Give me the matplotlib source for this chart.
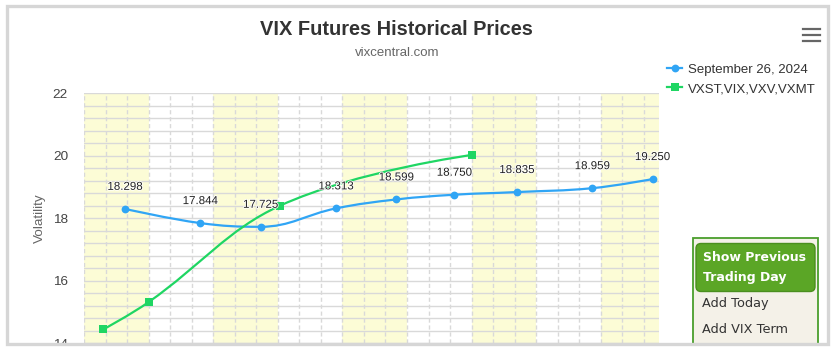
"""VIX futures term structure vs. VXST/VIX/VXV/VXMT curve (vixcentral style)."""

import matplotlib
matplotlib.use("Agg")
import matplotlib.pyplot as plt
import numpy as np
import pandas as pd
from matplotlib.lines import Line2D
from matplotlib.patches import Rectangle, FancyBboxPatch, PathPatch
from matplotlib.path import Path
from matplotlib.transforms import IdentityTransform
import matplotlib.patheffects as pe

plt.rcParams["font.family"] = ["Liberation Sans", "DejaVu Sans"]

# ---------------------------------------------------------------------------
# Data
# ---------------------------------------------------------------------------
base_date = "2024-09-26"
futures_dates = ["2024-10-16", "2024-11-20", "2024-12-18", "2025-01-22",
                 "2025-02-19", "2025-03-18", "2025-04-16", "2025-05-21",
                 "2025-06-18"]
futures_prices = [18.298, 17.844, 17.725, 18.313, 18.599, 18.750, 18.835,
                  18.959, 19.250]

index_names = ["VXST", "VIX", "VXV", "VXMT"]
index_days = [10, 31, 92, 181]
index_values = [14.45, 15.32, 18.40, 20.02]

futures_label = "September 26, 2024"
index_label = ",".join(index_names)

BLUE = "#30a5f5"
GREEN = "#1fd663"
BAND = "#fcfcd6"
GRID = "#d9d9d9"

W, H = 832, 350


def fx(px):
    return px / W


def fy(py):
    return 1 - py / H


def spline_path(xs, ys, smoothing=1.5):
    """Highcharts-like spline through the points (cubic bezier segments)."""
    n = len(xs)
    verts = [(xs[0], ys[0])]
    codes = [Path.MOVETO]
    right = [None] * n
    for i in range(1, n):
        px, py = xs[i], ys[i]
        lx, ly = xs[i - 1], ys[i - 1]
        lcx, lcy = px, py
        if i < n - 1:
            nx, ny = xs[i + 1], ys[i + 1]
            d = smoothing + 1
            lcx = (smoothing * px + lx) / d
            lcy = (smoothing * py + ly) / d
            rcx = (smoothing * px + nx) / d
            rcy = (smoothing * py + ny) / d
            corr = (rcy - lcy) * (rcx - px) / (rcx - lcx) + py - rcy
            lcy += corr
            rcy += corr
            if lcy > ly and lcy > py:
                lcy = max(ly, py)
                rcy = 2 * py - lcy
            elif lcy < ly and lcy < py:
                lcy = min(ly, py)
                rcy = 2 * py - lcy
            if rcy > ny and rcy > py:
                rcy = max(ny, py)
                lcy = 2 * py - rcy
            elif rcy < ny and rcy < py:
                rcy = min(ny, py)
                lcy = 2 * py - rcy
            right[i] = (rcx, rcy)
        prev = right[i - 1] if right[i - 1] is not None else (lx, ly)
        verts += [prev, (lcx, lcy), (px, py)]
        codes += [Path.CURVE4] * 3
    return Path(verts, codes)


futures_days = (pd.to_datetime(futures_dates) - pd.Timestamp(base_date)).days.values

# ---------------------------------------------------------------------------
# Figure / axes
# ---------------------------------------------------------------------------
fig = plt.figure(figsize=(W / 100, H / 100), dpi=100, facecolor="white")
ax = fig.add_axes([fx(84), fy(343.4), 575 / W, 250.4 / H])

ax.set_xlim(1, 268)
ax.set_ylim(14, 22)

for start in range(1, 268, 60):
    ax.axvspan(start, start + 30, color=BAND, lw=0, zorder=0.1)

ax.set_yticks([14, 16, 18, 20, 22])
ax.set_yticks(np.arange(14, 22.01, 0.4), minor=True)
ax.set_xticks(np.arange(1, 269, 10))
ax.set_xticklabels([])
ax.set_axisbelow(True)
ax.grid(axis="y", which="both", color=GRID, lw=1.0)
ax.grid(axis="x", color=GRID, lw=1.0, ls=(0, (3, 2)))
ax.tick_params(axis="both", which="both", length=0)
ax.tick_params(axis="y", labelsize=9.7, labelcolor="#444444", pad=11.5)
for s in ax.spines.values():
    s.set_visible(False)

# series: futures (blue) and indices (green)
ax.add_patch(PathPatch(spline_path(futures_days, futures_prices), fc="none",
                       ec=BLUE, lw=1.6, zorder=3))
ax.plot(futures_days, futures_prices, "o", color=BLUE, ms=5.6, mew=0, zorder=4)

ax.add_patch(PathPatch(spline_path(index_days, index_values), fc="none",
                       ec=GREEN, lw=1.6, zorder=5))
ax.plot(index_days, index_values, "s", color=GREEN, ms=6.0, mew=0, zorder=6)

for d, v in zip(futures_days, futures_prices):
    ax.annotate(f"{v:.3f}", (d, v), xytext=(0, 13.7), textcoords="offset points",
                ha="center", va="baseline", fontsize=8.3, color="#222222",
                zorder=8,
                path_effects=[pe.withStroke(linewidth=1.2, foreground="white")])

# ---------------------------------------------------------------------------
# Titles, axis label, legend, menu icon
# ---------------------------------------------------------------------------
fig.text(fx(396.5), fy(35), "VIX Futures Historical Prices", ha="center",
         va="baseline", fontsize=14.4, fontweight="bold", color="#333333")
fig.text(fx(397), fy(56.5), "vixcentral.com", ha="center", va="baseline",
         fontsize=9.5, color="#666666")
fig.text(fx(39.5), fy(218), "Volatility", rotation=90, ha="center",
         va="center", fontsize=9.7, color="#666666")

for row_y, base_y, col, mk, label in [(67.7, 72.5, BLUE, "o", futures_label),
                                       (87.3, 92.5, GREEN, "s", index_label)]:
    fig.add_artist(Line2D([fx(667), fx(682)], [fy(row_y), fy(row_y)],
                          color=col, lw=1.6))
    fig.add_artist(Line2D([fx(674.5)], [fy(row_y)], marker=mk, color=col,
                          ms=5.6 if mk == "o" else 6.0, mew=0))
    fig.text(fx(688), fy(base_y), label, ha="left", va="baseline",
             fontsize=9.5, color="#333333")

for yy in (29, 35, 41):
    fig.add_artist(Line2D([fx(803), fx(820)], [fy(yy), fy(yy)],
                          color="#666666", lw=1.6))

# ---------------------------------------------------------------------------
# Button panel (right side)
# ---------------------------------------------------------------------------
ident = IdentityTransform()
fig.add_artist(Rectangle((692.7, 0), 125.6, H - 238.3, transform=ident,
                         fc="#f4f1e8", ec="#4a9e2c", lw=1.3, zorder=3))
fig.add_artist(FancyBboxPatch((696, H - 291.5), 119, 48,
                              boxstyle="round,pad=0,rounding_size=5",
                              transform=ident, fc="#5ba626", ec="#4a8f1e",
                              lw=1.0, zorder=4))
fig.text(fx(703), fy(257.5), "Show Previous", ha="left", va="center",
         fontsize=9, fontweight="bold", color="white", family="DejaVu Sans",
         zorder=5)
fig.text(fx(703), fy(277.5), "Trading Day", ha="left", va="center",
         fontsize=9, fontweight="bold", color="white", family="DejaVu Sans",
         zorder=5)
fig.text(fx(702), fy(303.3), "Add Today", ha="left", va="center",
         fontsize=9.3, color="#333333", family="DejaVu Sans", zorder=5)
fig.text(fx(702), fy(329.3), "Add VIX Term", ha="left", va="center",
         fontsize=9.3, color="#333333", family="DejaVu Sans", zorder=5)

# ---------------------------------------------------------------------------
# Screenshot frame (cuts the bottom of the chart)
# ---------------------------------------------------------------------------
fig.add_artist(Rectangle((0, 0), W, H - 343.5, transform=ident, fc="white",
                         ec="none", zorder=10))
fig.add_artist(Rectangle((6.5, H - 343.5), 821, 337.5, transform=ident,
                         fc="none", ec="#d6d6d6", lw=2.4, zorder=11))

fig.savefig("out.png", dpi=100, facecolor="white")
